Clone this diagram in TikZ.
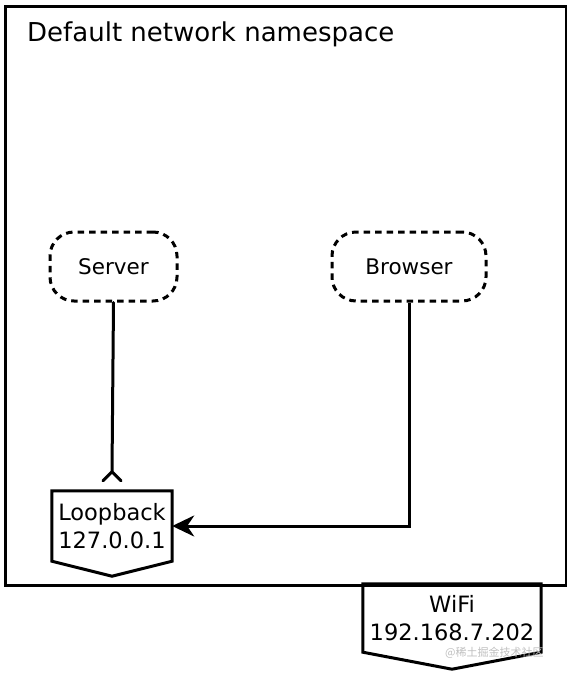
\documentclass[tikz,border=0pt]{standalone}
\usepackage{fontspec}
\setmainfont{DejaVu Sans}
\newfontfamily\cjk{Noto Sans CJK SC}
\usetikzlibrary{arrows.meta,calc}
\begin{document}
\begin{tikzpicture}[x=1pt,y=-1pt,
  frame/.style={draw=black,line width=3pt},
  appbox/.style={draw=black,line width=3pt,dash pattern=on 6.5pt off 5pt,rounded corners=24pt,minimum height=69pt,inner sep=0pt,font=\fontsize{21.5}{25}\selectfont},
  iface/.style={inner sep=0pt,align=center,font=\fontsize{22.5}{28}\selectfont},
  ifshape/.style={draw=black,line width=3pt,line join=miter},
  conn/.style={draw=black,line width=3pt}
]
\useasboundingbox (0,0) rectangle (567,673);
% outer namespace frame
\node[frame,minimum width=561pt,minimum height=579pt,inner sep=0pt,anchor=north west] (ns) at (4,5) {};
\node[anchor=west,inner sep=0pt,font=\fontsize{26}{30}\selectfont] (title) at (27,34) {Default network namespace};
% applications
\node[appbox,minimum width=127pt] (server) at (113.5,266.5) {Server};
\node[appbox,minimum width=154pt] (browser) at (409,266.5) {Browser};
% loopback interface
\node[iface,minimum width=120pt,minimum height=70pt] (loop) at (112,526) {Loopback\\127.0.0.1};
\path[ifshape] (loop.north west) -- (loop.north east) -- (loop.south east) -- ($(loop.south)+(0,15)$) -- (loop.south west) -- cycle;
% wifi interface
\node[iface,minimum width=178pt,minimum height=68pt] (wifi) at (452,618) {WiFi\\192.168.7.202};
\path[ifshape] (wifi.north west) -- (wifi.north east) -- (wifi.south east) -- ($(wifi.south)+(0,17)$) -- (wifi.south west) -- cycle;
% connectors
\coordinate (sv) at ($(loop.north)+(0,-19)$);
\draw[conn,line cap=round] (server.south) -- (sv) -- +(-9,9) (sv) -- +(9,9);
\draw[conn,-{Stealth[length=22pt,width=21pt,inset=7pt]}] (browser.south) |- (loop.east);
% watermark
\node[anchor=west,inner sep=0pt,text=black!25,font=\cjk\fontsize{11}{13}\selectfont] (wm) at (445,653) {@稀土掘金技术社区};
\end{tikzpicture}
\end{document}
